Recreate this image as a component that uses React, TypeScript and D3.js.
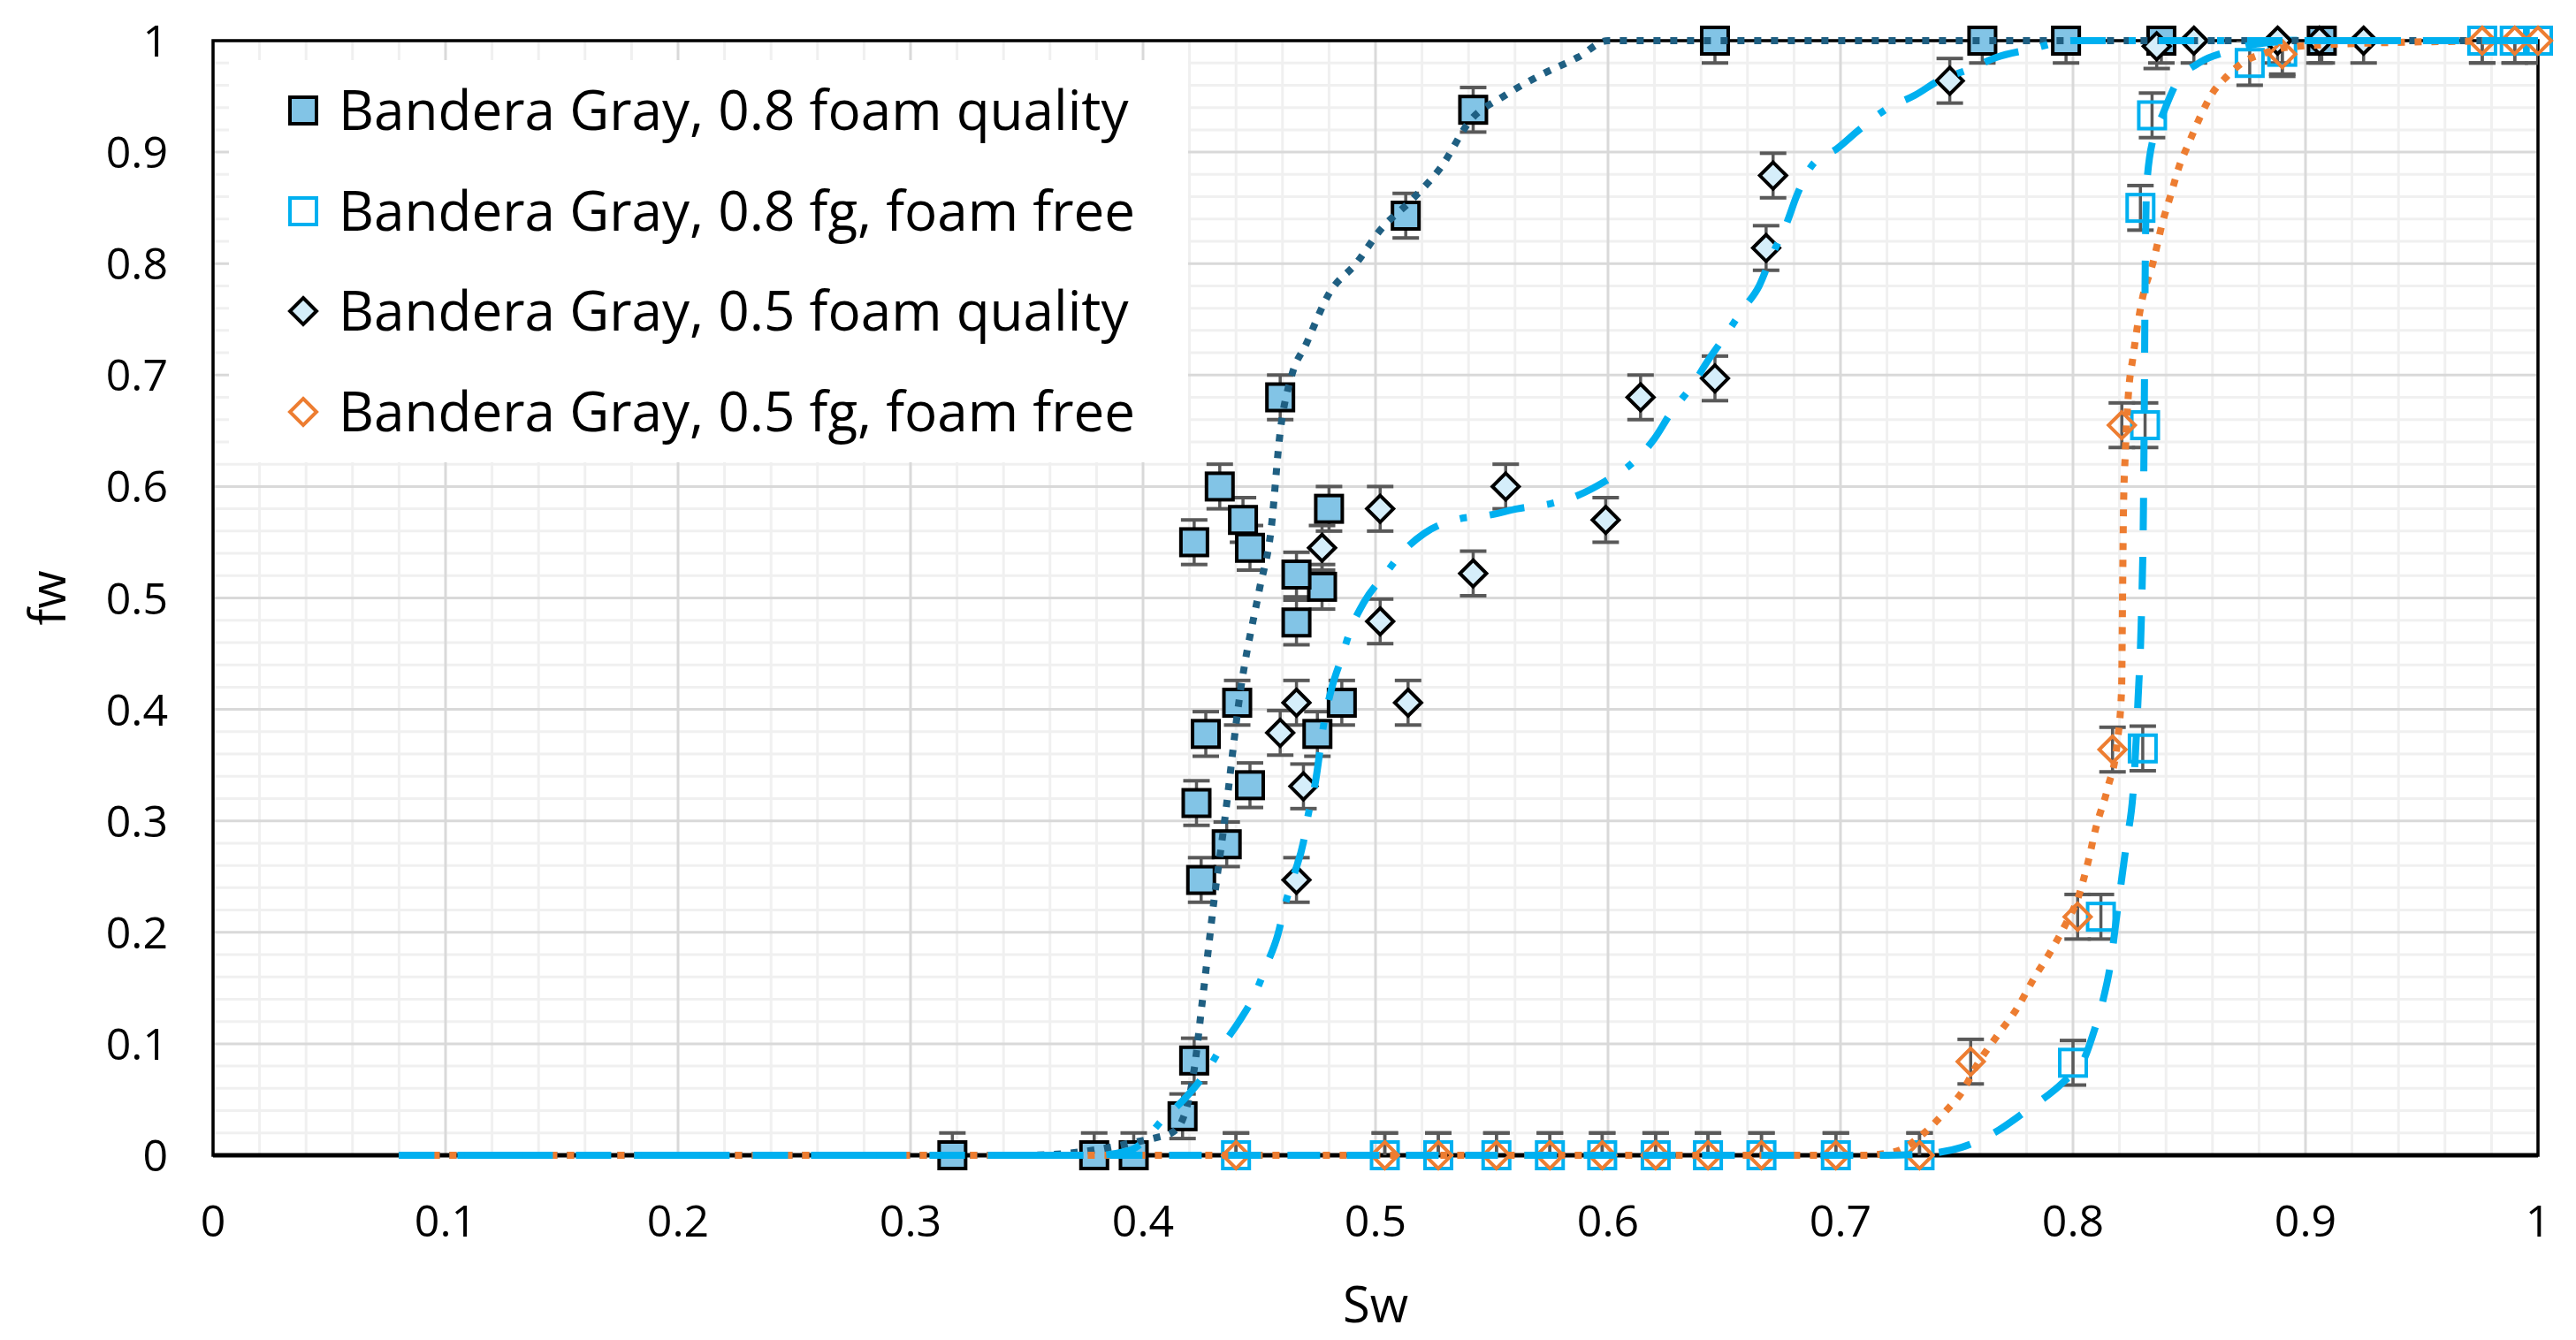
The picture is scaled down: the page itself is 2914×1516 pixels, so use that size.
import { useEffect, useRef } from "react"
import * as d3 from "d3"

type Pt = [number, number]

// measured points (Sw, fw)
const foam08: Pt[] = [
  [0.318, 0], [0.379, 0], [0.396, 0], [0.417, 0.035], [0.422, 0.085],
  [0.425, 0.247], [0.436, 0.279], [0.423, 0.316], [0.446, 0.332], [0.427, 0.378],
  [0.475, 0.378], [0.4405, 0.406], [0.4855, 0.406], [0.466, 0.478], [0.477, 0.51],
  [0.466, 0.521], [0.446, 0.545], [0.422, 0.55], [0.443, 0.57], [0.48, 0.58],
  [0.433, 0.6], [0.459, 0.68], [0.513, 0.843], [0.542, 0.938], [0.646, 1.0],
  [0.761, 1.0], [0.797, 1.0], [0.838, 1.0], [0.907, 1.0],
]

const free08: Pt[] = [
  [0.44, 0], [0.504, 0], [0.527, 0], [0.552, 0], [0.575, 0], [0.5975, 0],
  [0.6205, 0], [0.643, 0], [0.666, 0], [0.698, 0], [0.734, 0],
  [0.8, 0.083], [0.812, 0.214], [0.83, 0.365], [0.831, 0.655], [0.829, 0.85],
  [0.834, 0.933], [0.876, 0.98], [0.89, 0.99], [0.976, 1], [0.99, 1], [1.0, 1],
]

const foam05: Pt[] = [
  [0.466, 0.247], [0.469, 0.331], [0.459, 0.379], [0.466, 0.406], [0.514, 0.406],
  [0.502, 0.479], [0.542, 0.522], [0.477, 0.545], [0.599, 0.57], [0.502, 0.58],
  [0.556, 0.6], [0.614, 0.68], [0.646, 0.697], [0.668, 0.814], [0.671, 0.879],
  [0.747, 0.964], [0.836, 0.995], [0.852, 1.0], [0.888, 1.0], [0.906, 1.0], [0.925, 1.0],
]

const free05: Pt[] = [
  [0.44, 0], [0.504, 0], [0.527, 0], [0.552, 0], [0.575, 0], [0.5975, 0],
  [0.6205, 0], [0.643, 0], [0.666, 0], [0.698, 0], [0.734, 0],
  [0.756, 0.084], [0.802, 0.214], [0.817, 0.364], [0.821, 0.655], [0.89, 0.988],
  [0.976, 1], [0.99, 1], [1.0, 1],
]

// fitted curves
const curveFoam08: Pt[] = [
  [0.08, 0], [0.35, 0], [0.38, 0.005], [0.397, 0.012], [0.406, 0.016], [0.413, 0.021],
  [0.417, 0.032], [0.42, 0.053], [0.422, 0.077], [0.4255, 0.138], [0.428, 0.183],
  [0.4305, 0.228], [0.4346, 0.292], [0.442, 0.418], [0.45, 0.507], [0.455, 0.56],
  [0.459, 0.649], [0.464, 0.7], [0.47, 0.727], [0.48, 0.773], [0.492, 0.801],
  [0.502, 0.83], [0.516, 0.858], [0.528, 0.886], [0.541, 0.929], [0.555, 0.95],
  [0.57, 0.968], [0.587, 0.985], [0.6, 1.0], [1.0, 1.0],
]

const curveFree08: Pt[] = [
  [0.08, 0], [0.72, 0], [0.74, 0.002], [0.752, 0.007], [0.766, 0.02], [0.78, 0.04],
  [0.796, 0.066], [0.8045, 0.085], [0.809, 0.111], [0.813, 0.14], [0.816, 0.17],
  [0.819, 0.218], [0.823, 0.28], [0.826, 0.33], [0.828, 0.41], [0.8295, 0.49],
  [0.8303, 0.58], [0.8307, 0.68], [0.831, 0.78], [0.8317, 0.87], [0.8348, 0.915],
  [0.8384, 0.933], [0.844, 0.96], [0.855, 0.981], [0.866, 0.99], [0.879, 0.997],
  [0.9, 1.0], [1.0, 1.0],
]

const curveFoam05: Pt[] = [
  [0.08, 0], [0.38, 0], [0.395, 0.005], [0.4, 0.012], [0.408, 0.031], [0.418, 0.051],
  [0.427, 0.074], [0.434, 0.098], [0.441, 0.119], [0.448, 0.144], [0.453, 0.17],
  [0.458, 0.198], [0.461, 0.224], [0.465, 0.252], [0.469, 0.281], [0.471, 0.305],
  [0.474, 0.333], [0.478, 0.39], [0.481, 0.418], [0.4855, 0.447], [0.489, 0.47],
  [0.495, 0.496], [0.504, 0.521], [0.512, 0.542], [0.521, 0.558], [0.536, 0.571],
  [0.548, 0.574], [0.561, 0.58], [0.576, 0.585], [0.587, 0.592], [0.599, 0.605],
  [0.611, 0.622], [0.62, 0.643], [0.627, 0.666], [0.636, 0.69], [0.643, 0.713],
  [0.65, 0.734], [0.658, 0.759], [0.665, 0.78], [0.67, 0.805], [0.677, 0.837],
  [0.681, 0.86], [0.687, 0.886], [0.699, 0.904], [0.708, 0.92], [0.72, 0.939],
  [0.732, 0.951], [0.743, 0.965], [0.755, 0.974], [0.767, 0.985], [0.781, 0.992],
  [0.8, 1.0], [1.0, 1.0],
]

const curveFree05: Pt[] = [
  [0.08, 0], [0.71, 0], [0.723, 0.003], [0.736, 0.02], [0.745, 0.039], [0.752, 0.056],
  [0.759, 0.082], [0.768, 0.109], [0.776, 0.132], [0.783, 0.158], [0.791, 0.185],
  [0.797, 0.208], [0.802, 0.23], [0.806, 0.259], [0.81, 0.295], [0.815, 0.33],
  [0.819, 0.37], [0.8209, 0.418], [0.8213, 0.497], [0.8217, 0.577], [0.8225, 0.63],
  [0.8238, 0.682], [0.8258, 0.716], [0.8292, 0.762], [0.8348, 0.804], [0.8384, 0.836],
  [0.8421, 0.862], [0.8458, 0.888], [0.8496, 0.907], [0.855, 0.933], [0.8597, 0.952],
  [0.8662, 0.968], [0.8735, 0.981], [0.8827, 0.989], [0.892, 0.994], [0.93, 0.998],
  [1.0, 1.0],
]

const errorFw = 0.02

const xTicks = [0, 0.1, 0.2, 0.3, 0.4, 0.5, 0.6, 0.7, 0.8, 0.9, 1]
const yTicks = [0, 0.1, 0.2, 0.3, 0.4, 0.5, 0.6, 0.7, 0.8, 0.9, 1]

const legendLabels = [
  "Bandera Gray, 0.8 foam quality",
  "Bandera Gray, 0.8 fg, foam free",
  "Bandera Gray, 0.5 foam quality",
  "Bandera Gray, 0.5 fg, foam free",
]

const W = 2914
const H = 1516
const FONT = "'Open Sans', 'Liberation Sans', sans-serif"

const darkBlue = "#1F5F82"
const lightBlue = "#00B0F0"
const orange = "#ED7D31"

export default function App() {
  const svgRef = useRef<SVGSVGElement>(null)

  useEffect(() => {
    document.body.style.margin = "0"
    document.body.style.overflow = "hidden"
    if (!svgRef.current) return
    const svg = d3.select(svgRef.current)
    svg.selectAll("*").remove()

    const left = 241, right = 2871, top = 46, bottom = 1307
    const x = d3.scaleLinear().domain([0, 1]).range([left, right])
    const y = d3.scaleLinear().domain([0, 1]).range([bottom, top])

    svg.append("rect").attr("width", W).attr("height", H).attr("fill", "#fff")

    const defs = svg.append("defs")
    defs.append("clipPath").attr("id", "plotClip")
      .append("rect")
      .attr("x", left).attr("y", top)
      .attr("width", right - left).attr("height", bottom - top)

    // grid
    const grid = svg.append("g")
    const minor = d3.range(0, 51).map((i) => i / 50).filter((_, i) => i % 5 !== 0)
    minor.forEach((v) => {
      grid.append("line")
        .attr("x1", x(v)).attr("x2", x(v)).attr("y1", top).attr("y2", bottom)
        .attr("stroke", "#f0f0f0").attr("stroke-width", 3)
      grid.append("line")
        .attr("x1", left).attr("x2", right).attr("y1", y(v)).attr("y2", y(v))
        .attr("stroke", "#f0f0f0").attr("stroke-width", 3)
    })
    xTicks.forEach((v) => {
      grid.append("line")
        .attr("x1", x(v)).attr("x2", x(v)).attr("y1", top).attr("y2", bottom)
        .attr("stroke", "#d9d9d9").attr("stroke-width", 3)
    })
    yTicks.forEach((v) => {
      grid.append("line")
        .attr("x1", left).attr("x2", right).attr("y1", y(v)).attr("y2", y(v))
        .attr("stroke", "#d9d9d9").attr("stroke-width", 3)
    })

    // plot border
    svg.append("rect")
      .attr("x", left).attr("y", top)
      .attr("width", right - left).attr("height", bottom - top)
      .attr("fill", "none").attr("stroke", "#000").attr("stroke-width", 3.5)
    svg.append("line")
      .attr("x1", left).attr("x2", right).attr("y1", bottom).attr("y2", bottom)
      .attr("stroke", "#000").attr("stroke-width", 5)

    // tick labels
    const fmt = d3.format("~g")
    xTicks.forEach((v) => {
      svg.append("text")
        .attr("x", x(v)).attr("y", 1399)
        .attr("text-anchor", "middle")
        .attr("font-family", FONT).attr("font-size", 50).attr("fill", "#000")
        .text(fmt(v))
    })
    yTicks.forEach((v) => {
      svg.append("text")
        .attr("x", 190).attr("y", y(v) + 18)
        .attr("text-anchor", "end")
        .attr("font-family", FONT).attr("font-size", 50).attr("fill", "#000")
        .text(fmt(v))
    })

    // axis titles
    svg.append("text")
      .attr("x", (left + right) / 2).attr("y", 1496)
      .attr("text-anchor", "middle")
      .attr("font-family", FONT).attr("font-size", 56).attr("fill", "#000")
      .text("Sw")
    svg.append("text")
      .attr("transform", `translate(74,${(top + bottom) / 2}) rotate(-90)`)
      .attr("text-anchor", "middle")
      .attr("font-family", FONT).attr("font-size", 56).attr("fill", "#000")
      .text("fw")

    // error bars
    const errG = svg.append("g").attr("clip-path", "url(#plotClip)")
    const allPts = [...foam08, ...free08, ...foam05, ...free05]
    allPts.forEach(([sx, fw]) => {
      const cx = x(sx)
      const y1 = y(fw + errorFw), y0 = y(fw - errorFw)
      errG.append("line").attr("x1", cx).attr("x2", cx).attr("y1", y1).attr("y2", y0)
        .attr("stroke", "#595959").attr("stroke-width", 3.5)
      ;[y1, y0].forEach((yy) => {
        errG.append("line").attr("x1", cx - 15).attr("x2", cx + 15).attr("y1", yy).attr("y2", yy)
          .attr("stroke", "#595959").attr("stroke-width", 4)
      })
    })

    // markers
    const diamond = (h: number) => `M0,${-h}L${h},0L0,${h}L${-h},0Z`
    const drawSquare = (g: any, cx: number, cy: number, fill: string, stroke: string) => {
      g.append("rect")
        .attr("x", cx - 15).attr("y", cy - 15).attr("width", 30).attr("height", 30)
        .attr("fill", fill).attr("stroke", stroke).attr("stroke-width", 4)
    }
    const drawDiamond = (g: any, cx: number, cy: number, fill: string, stroke: string) => {
      g.append("path")
        .attr("d", diamond(15))
        .attr("transform", `translate(${cx},${cy})`)
        .attr("fill", fill).attr("stroke", stroke).attr("stroke-width", 4)
        .attr("stroke-linejoin", "miter")
    }

    const markG = svg.append("g")
    foam08.forEach(([a, b]) => drawSquare(markG, x(a), y(b), "#82C4E6", "#000"))
    free08.forEach(([a, b]) => drawSquare(markG, x(a), y(b), "none", lightBlue))
    foam05.forEach(([a, b]) => drawDiamond(markG, x(a), y(b), "#D5EEFA", "#000"))
    free05.forEach(([a, b]) => drawDiamond(markG, x(a), y(b), "none", orange))

    // fitted curves
    const line = d3.line<Pt>()
      .x((d) => x(d[0]))
      .y((d) => y(d[1]))
      .curve(d3.curveMonotoneX)

    const curves: { pts: Pt[]; color: string; width: number; dash: string }[] = [
      { pts: curveFoam08, color: darkBlue, width: 8, dash: "8 11" },
      { pts: curveFree05, color: orange, width: 8, dash: "8 11" },
      { pts: curveFree08, color: lightBlue, width: 8, dash: "37 30" },
      { pts: curveFoam05, color: lightBlue, width: 8, dash: "40 26 8 26" },
    ]
    curves.forEach((c) => {
      svg.append("path")
        .attr("d", line(c.pts))
        .attr("fill", "none")
        .attr("stroke", c.color)
        .attr("stroke-width", c.width)
        .attr("stroke-dasharray", c.dash)
    })

    // legend
    const lg = svg.append("g")
    lg.append("rect")
      .attr("x", 259).attr("y", 68).attr("width", 1085).attr("height", 455)
      .attr("fill", "#fff")
    const rows = [125, 239, 352, 466]
    legendLabels.forEach((label, i) => {
      const cy = rows[i]
      if (i === 0) drawSquare(lg, 343, cy, "#82C4E6", "#000")
      if (i === 1) drawSquare(lg, 343, cy, "#fff", lightBlue)
      if (i === 2) drawDiamond(lg, 343, cy, "#D5EEFA", "#000")
      if (i === 3) drawDiamond(lg, 343, cy, "#fff", orange)
      lg.append("text")
        .attr("x", 383).attr("y", cy + 22)
        .attr("font-family", FONT).attr("font-size", 62).attr("fill", "#000")
        .text(label)
    })
  }, [])

  return (
    <svg
      ref={svgRef}
      width={W}
      height={H}
      style={{ display: "block" }}
    />
  )
}
